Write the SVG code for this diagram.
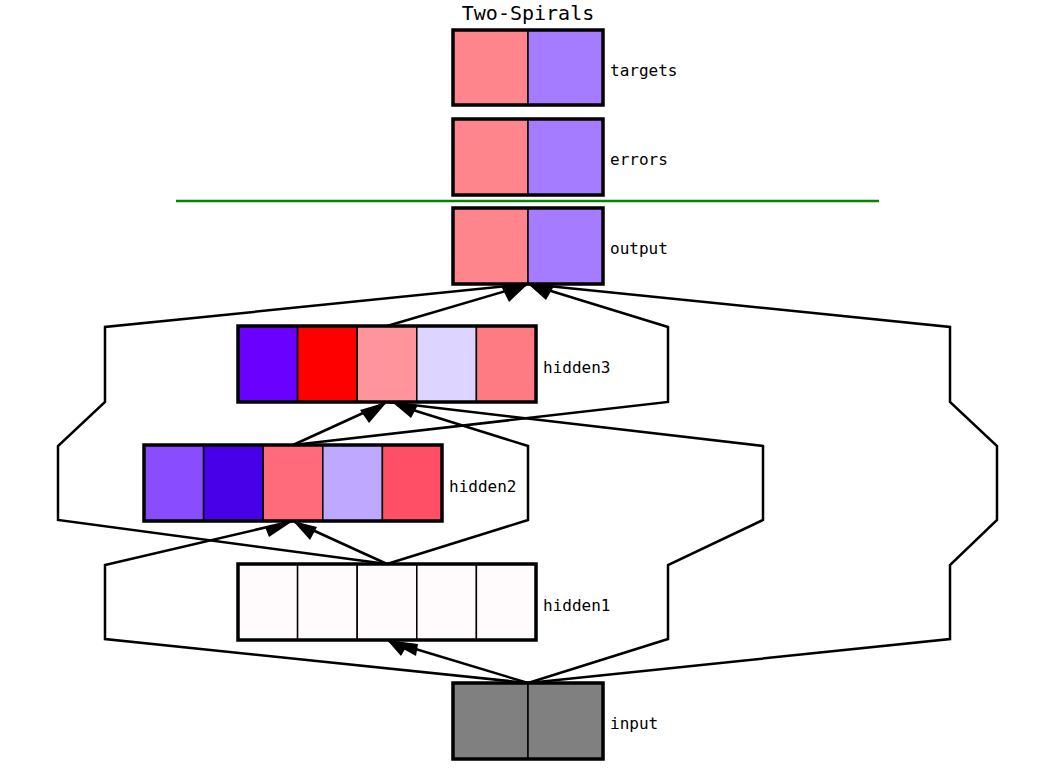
<svg xmlns="http://www.w3.org/2000/svg" width="1044" height="768" viewBox="0 0 1044 768">
<defs>
<marker id="ah" viewBox="0 0 10 10" refX="10" refY="5" markerWidth="7" markerHeight="7" markerUnits="userSpaceOnUse" orient="auto" style="overflow:visible">
<path d="M0,0 L10,5 L0,10 z" fill="#000" transform="scale(2.6) translate(-6,-3.1)"/>
</marker>
<style>
.o{fill:none;stroke:#000;stroke-width:3.5}
.c{stroke:#000;stroke-width:1.5}
.l{fill:none;stroke:#000;stroke-width:2.5}
text{font-family:"DejaVu Sans Mono",monospace;font-size:16px}
</style>
</defs>
<rect width="1044" height="768" fill="#fff"/>
<g id="connectors">
<polyline class="l" points="387,564 58,520 58,446 105,402 105,327 528,284"/>
<polyline class="l" points="293,445 668,402 668,327 538,287"/>
<polyline class="l" points="528,683 950,639 950,565 997,520 997,446 950,402 950,327 528,284"/>
<polyline class="l" points="528,683 668,639 668,565 763,520 763,446 387,402"/>
<polyline class="l" points="528,683 105,639 105,565 293,521"/>
<polyline class="l" points="387,564 528,520 528,446 397,405"/>
<line class="l" x1="387" y1="326" x2="526" y2="285"/>
<line class="l" x1="293" y1="445" x2="385" y2="403"/>
<line class="l" x1="387" y1="564" x2="295" y2="522"/>
<line class="l" x1="528" y1="683" x2="389" y2="641"/>
<g fill="#000">
<polygon points="528,284 501,286 509,302"/>
<polygon points="528,284 546,300 554,286"/>
<polygon points="387,402 360,410 369,423"/>
<polygon points="392,402 411,418 418,405"/>
<polygon points="293,521 265,527 269,537"/>
<polygon points="293,521 310,540 317,527"/>
<polygon points="387,640 401,656 408,644"/>
<polygon points="387,640 416,656 418,644"/>
</g>
<line x1="176" y1="201" x2="879" y2="201" stroke="#008800" stroke-width="2.5"/>
</g>
<text x="528" y="20" text-anchor="middle" style="font-size:20px">Two-Spirals</text>
<g id="targets">
<rect x="453" y="30" width="75" height="75" fill="#ff858c" class="c"/>
<rect x="528" y="30" width="75" height="75" fill="#a57cff" class="c"/>
<rect x="453" y="30" width="150" height="75" class="o"/>
<text x="610" y="76">targets</text>
</g>
<g id="errors">
<rect x="453" y="119" width="75" height="76" fill="#ff858c" class="c"/>
<rect x="528" y="119" width="75" height="76" fill="#a57cff" class="c"/>
<rect x="453" y="119" width="150" height="76" class="o"/>
<text x="610" y="165">errors</text>
</g>
<g id="output">
<rect x="453" y="208" width="75" height="76" fill="#ff858c" class="c"/>
<rect x="528" y="208" width="75" height="76" fill="#a57cff" class="c"/>
<rect x="453" y="208" width="150" height="76" class="o"/>
<text x="610" y="254">output</text>
</g>
<g id="hidden3">
<rect x="238" y="326" width="59.6" height="76" fill="#6a00ff" class="c"/>
<rect x="297.6" y="326" width="59.6" height="76" fill="#ff0000" class="c"/>
<rect x="357.2" y="326" width="59.6" height="76" fill="#ff949c" class="c"/>
<rect x="416.8" y="326" width="59.6" height="76" fill="#ddd4ff" class="c"/>
<rect x="476.4" y="326" width="59.6" height="76" fill="#ff7b84" class="c"/>
<rect x="238" y="326" width="298" height="76" class="o"/>
<text x="543" y="373">hidden3</text>
</g>
<g id="hidden2">
<rect x="144" y="445" width="59.6" height="76" fill="#8a4cff" class="c"/>
<rect x="203.6" y="445" width="59.6" height="76" fill="#4800e8" class="c"/>
<rect x="263.2" y="445" width="59.6" height="76" fill="#ff6b7a" class="c"/>
<rect x="322.8" y="445" width="59.6" height="76" fill="#bfa8ff" class="c"/>
<rect x="382.4" y="445" width="59.6" height="76" fill="#ff4f66" class="c"/>
<rect x="144" y="445" width="298" height="76" class="o"/>
<text x="449" y="492">hidden2</text>
</g>
<g id="hidden1">
<rect x="238" y="564" width="59.6" height="76" fill="#fffafc" class="c"/>
<rect x="297.6" y="564" width="59.6" height="76" fill="#fffafc" class="c"/>
<rect x="357.2" y="564" width="59.6" height="76" fill="#fffafc" class="c"/>
<rect x="416.8" y="564" width="59.6" height="76" fill="#fffafc" class="c"/>
<rect x="476.4" y="564" width="59.6" height="76" fill="#fffafc" class="c"/>
<rect x="238" y="564" width="298" height="76" class="o"/>
<text x="543" y="611">hidden1</text>
</g>
<g id="input">
<rect x="453" y="683" width="75" height="76" fill="#808080" class="c"/>
<rect x="528" y="683" width="75" height="76" fill="#808080" class="c"/>
<rect x="453" y="683" width="150" height="76" class="o"/>
<text x="610" y="729">input</text>
</g>
</svg>
